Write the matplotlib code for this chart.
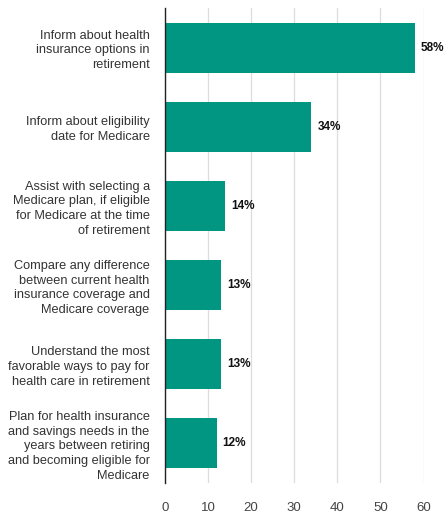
import matplotlib
import matplotlib.pyplot as plt

matplotlib.use('Agg')
plt.rcParams['font.family'] = ['Liberation Sans', 'DejaVu Sans']

categories = [
    'Inform about health\ninsurance options in\nretirement',
    'Inform about eligibility\ndate for Medicare',
    'Assist with selecting a\nMedicare plan, if eligible\nfor Medicare at the time\nof retirement',
    'Compare any difference\nbetween current health\ninsurance coverage and\nMedicare coverage',
    'Understand the most\nfavorable ways to pay for\nhealth care in retirement',
    'Plan for health insurance\nand savings needs in the\nyears between retiring\nand becoming eligible for\nMedicare',
]
values = [58, 34, 14, 13, 13, 12]
x_ticks = [0, 10, 20, 30, 40, 50, 60]

fig = plt.figure(figsize=(4.48, 5.19), dpi=100)
ax = fig.add_axes([165 / 448, 1 - 483 / 519, (423.5 - 165) / 448, (483 - 8) / 519])

pos = list(range(len(categories)))
ax.barh(pos, values, height=0.63, color='#009682', zorder=3)

# étiquettes de valeur en gras à droite des barres
for p, v in zip(pos, values):
    ax.text(v + 1.4, p, f'{v}%', va='center', ha='left', fontsize=8.5,
            fontweight='bold', color='#111111', zorder=4)

ax.set_xlim(0, 60)
ax.set_ylim(len(categories) - 0.5, -0.5)
ax.set_xticks(x_ticks)
ax.set_yticks(pos)
ax.set_yticklabels(categories, fontsize=9.2, color='#333333', linespacing=1.3)
ax.tick_params(axis='y', length=0, pad=11)
ax.tick_params(axis='x', length=0, pad=14, labelsize=9.5, labelcolor='#444444')

ax.grid(axis='x', color='#dddddd', linewidth=0.9, zorder=0)
for side in ['top', 'right', 'bottom']:
    ax.spines[side].set_visible(False)
ax.spines['left'].set_color('#222222')
ax.spines['left'].set_linewidth(1.0)
ax.spines['left'].set_zorder(5)

fig.savefig('out.png', dpi=100)
